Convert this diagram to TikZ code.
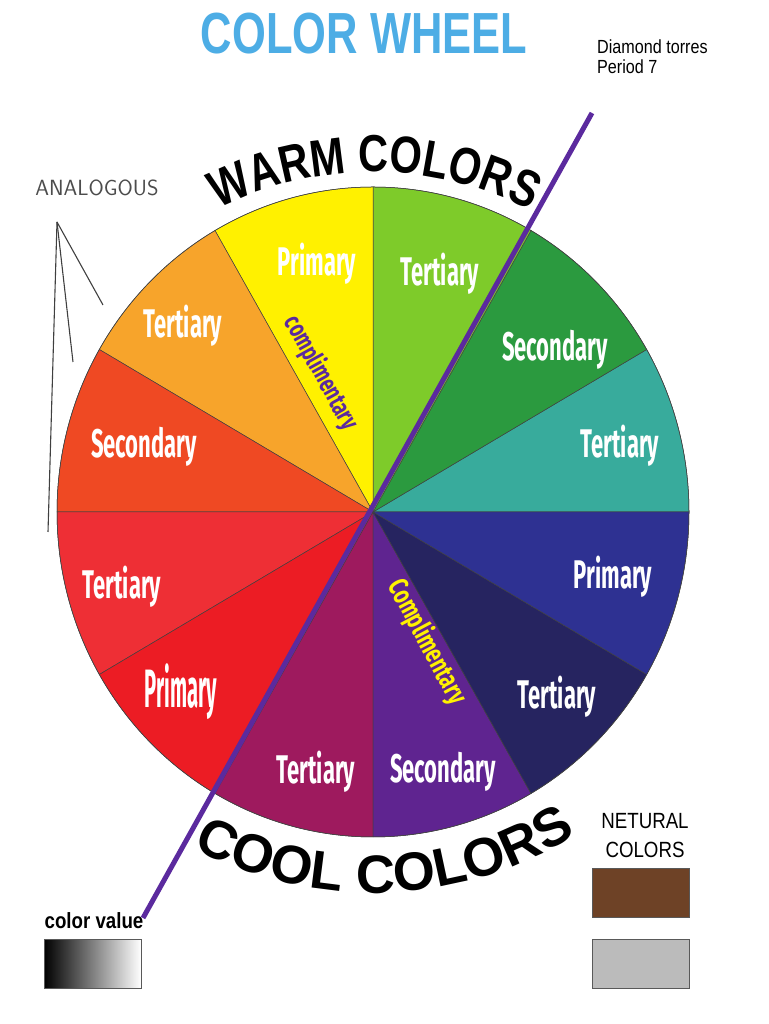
\documentclass[tikz,border=0pt]{standalone}
\usepackage{fontspec}
\usepackage{tikz}
\usetikzlibrary{decorations.text}

\setmainfont{Liberation Sans}
\newfontfamily\titlefont[FakeStretch=0.75]{Liberation Sans}
\newfontfamily\narrowfont[FakeStretch=0.85]{Liberation Sans}
\newfontfamily\arcfont[FakeStretch=0.8]{Liberation Sans}
\newfontfamily\sectorfont[FakeStretch=0.55]{Fira Sans}
\newfontfamily\complfont[FakeStretch=0.7]{Fira Sans}

\definecolor{titleblue}{HTML}{4DADE5}
\definecolor{tealtert}{HTML}{38AB9C}
\definecolor{greensec}{HTML}{2B9A3F}
\definecolor{limetert}{HTML}{7ECB2A}
\definecolor{yellowprim}{HTML}{FFF100}
\definecolor{orangetert}{HTML}{F7A42B}
\definecolor{redorangesec}{HTML}{EF4923}
\definecolor{redtert}{HTML}{EE2F35}
\definecolor{redprim}{HTML}{EC1C24}
\definecolor{magentatert}{HTML}{9E1A5E}
\definecolor{purplesec}{HTML}{5F2490}
\definecolor{navytert}{HTML}{262460}
\definecolor{blueprim}{HTML}{2E3192}
\definecolor{splitline}{HTML}{5B2A9E}
\definecolor{neutralbrown}{HTML}{6E4226}
\definecolor{neutralgray}{HTML}{BBBBBB}

\newcommand{\colorsector}[3]{%
  \filldraw[sector, fill=#3] (c) -- ++(#1:316 and 325)
    arc[start angle=#1, end angle=#2, x radius=316, y radius=325] -- cycle;}

\begin{document}
\begin{tikzpicture}[x=1pt, y=1pt]
	\tikzset{sector/.style = {draw=black!75, line width=0.5pt},
	sectorlabel/.style = {text=white, inner sep=0pt,
	font=\sectorfont\bfseries\fontsize{40}{40}\selectfont},
	swatch/.style = {draw=black!65, line width=0.8pt, inner sep=0pt,
	minimum width=97pt, minimum height=49pt}}
	
	\useasboundingbox (0,0) rectangle (768,1024);
	\coordinate (c) at (373,512);
	
	% wheel
	\colorsector{0}{30}{tealtert}
	\colorsector{30}{60}{greensec}
	\colorsector{60}{90}{limetert}
	\colorsector{90}{120}{yellowprim}
	\colorsector{120}{150}{orangetert}
	\colorsector{150}{180}{redorangesec}
	\colorsector{180}{210}{redtert}
	\colorsector{210}{240}{redprim}
	\colorsector{240}{270}{magentatert}
	\colorsector{270}{300}{purplesec}
	\colorsector{300}{330}{navytert}
	\colorsector{330}{360}{blueprim}
	\draw[sector] (c) ellipse[x radius=316, y radius=325];
	
	\node[sectorlabel] (prim_yellow) at (317,760) {Primary};
	\node[sectorlabel] (tert_lime) at (440,750) {Tertiary};
	\node[sectorlabel] (sec_green) at (555,674) {Secondary};
	\node[sectorlabel] (tert_teal) at (620,578) {Tertiary};
	\node[sectorlabel] (prim_blue) at (613,447) {Primary};
	\node[sectorlabel] (tert_navy) at (557,327) {Tertiary};
	\node[sectorlabel] (sec_purple) at (443,252) {Secondary};
	\node[sectorlabel] (tert_magenta) at (316,252) {Tertiary};
	\node[sectorlabel] (prim_red) at (181,332) {\scalebox{0.92}[1.35]{Primary}};
	\node[sectorlabel] (tert_red) at (122,437) {Tertiary};
	\node[sectorlabel] (sec_redorange) at (144,577) {Secondary};
	\node[sectorlabel] (tert_orange) at (183,698) {Tertiary};
	
	\node[text=splitline, rotate=-61, inner sep=0pt,
	font=\complfont\bfseries\fontsize{26}{26}\selectfont]
	(compl_warm) at (321,651) {complimentary};
	\node[text=yellowprim, rotate=-62, inner sep=0pt,
	font=\complfont\bfseries\fontsize{28}{28}\selectfont]
	(compl_cool) at (427,382) {Complimentary};
	
	% warm / cool split
	\coordinate (warm_end) at (592,911);
	\coordinate (cool_end) at (143,106);
	\draw[splitline, line width=5pt] (warm_end) -- (cool_end);
	
	\path[decorate, decoration={text along path, text align=center,
	text={|\arcfont\bfseries\fontsize{52}{52}\selectfont|WARM COLORS}}]
	([shift={(119.5:340)}]c) arc[start angle=119.5, end angle=60, radius=340];
	\path[decorate, decoration={text along path, text align=center,
	text={|\bfseries\fontsize{54}{54}\selectfont|COOL COLORS}}]
	([shift={(240:381)}]c) arc[start angle=240, end angle=304, radius=381];
	
	% headings
	\node[text=titleblue, font=\titlefont\bfseries\fontsize{58}{58}\selectfont]
	(title) at (364,990) {COLOR WHEEL};
	\node[anchor=west, align=left, inner sep=0pt,
	font=\narrowfont\fontsize{19}{20}\selectfont]
	(student) at (597,967) {Diamond torres\\Period 7};
	
	% analogous
	\node[text=black!70, font=\sffamily\fontsize{22}{22}\selectfont]
	(analogous) at (97,836) {ANALOGOUS};
	\coordinate (apex) at (57,802);
	\coordinate (analog_a) at (103,719);
	\coordinate (analog_b) at (73,662);
	\coordinate (analog_c) at (48,492);
	\draw[black!75, line width=1.1pt] (apex) -- (analog_a);
	\draw[black!75, line width=1.1pt] (apex) -- (analog_b);
	\draw[black!75, line width=1.1pt] (apex) -- (analog_c);
	
	% swatches
	\node[font=\narrowfont\bfseries\fontsize{22}{22}\selectfont]
	(value_label) at (94,103) {color value};
	\node[swatch, left color=black, right color=white] (value_box) at (92.5,60) {};
	\node[align=center, font=\narrowfont\fontsize{22}{29}\selectfont]
	(neutral_label) at (645,188) {NETURAL\\COLORS};
	\node[swatch, fill=neutralbrown] (brown_box) at (640.5,131.5) {};
	\node[swatch, fill=neutralgray] (gray_box) at (640.5,60) {};
\end{tikzpicture}
\end{document}
